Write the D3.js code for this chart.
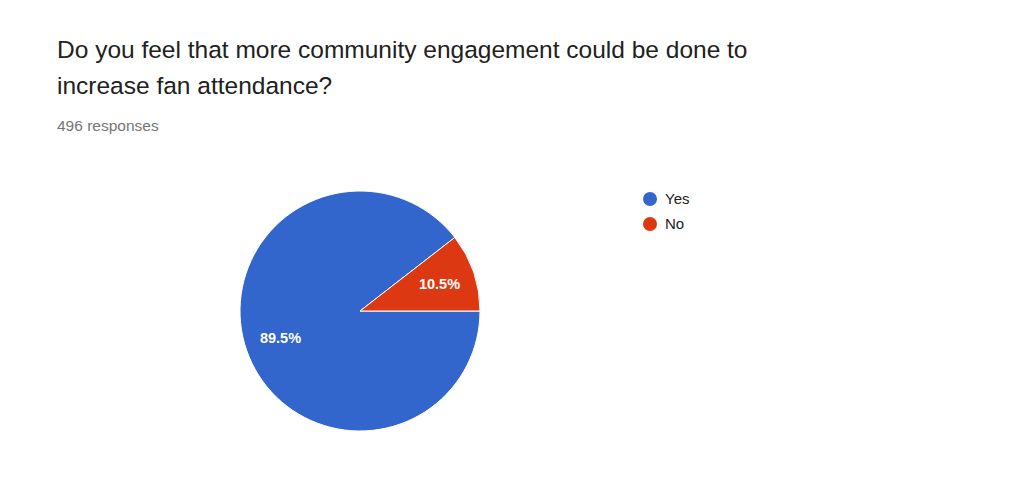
<!DOCTYPE html>
<html>
<head>
<meta charset="utf-8">
<script src="https://cdn.jsdelivr.net/npm/d3@7"></script>
<style>
  body { margin: 0; background: #fff; font-family: "Liberation Sans", Arial, sans-serif; }
</style>
</head>
<body>
<svg id="chart" width="1024" height="487"></svg>
<script>
// chart data
var titleLines = ["Do you feel that more community engagement could be done to", "increase fan attendance?"];
var subtitle = "496 responses";
var categories = ["Yes", "No"];
var values = [89.5, 10.5];
var colors = ["#3366cc", "#dc3912"];

var svg = d3.select("#chart");

// title + response count
svg.selectAll("text.title")
  .data(titleLines)
  .enter()
  .append("text")
  .attr("class", "title")
  .attr("x", 57)
  .attr("y", (d, i) => 58 + i * 36)
  .attr("font-size", 24.5)
  .attr("fill", "#212121")
  .text(d => d);

svg.append("text")
  .attr("x", 57)
  .attr("y", 131)
  .attr("font-size", 15.5)
  .attr("fill", "#757575")
  .text(subtitle);

// pie starts at 3 o'clock and runs clockwise
var radius = 120;
var g = svg.append("g").attr("transform", "translate(360,311)");

var pie = d3.pie().sort(null)
  .startAngle(Math.PI / 2)
  .endAngle(Math.PI / 2 + 2 * Math.PI);
var arc = d3.arc().innerRadius(0).outerRadius(radius);
var labelArc = d3.arc().innerRadius(radius * 0.7).outerRadius(radius * 0.7);

var arcs = pie(values);

g.selectAll("path")
  .data(arcs)
  .enter()
  .append("path")
  .attr("d", arc)
  .attr("fill", (d, i) => colors[i])
  .attr("stroke", "#fff")
  .attr("stroke-width", 1);

g.selectAll("text")
  .data(arcs)
  .enter()
  .append("text")
  .attr("transform", d => "translate(" + labelArc.centroid(d) + ")")
  .attr("text-anchor", "middle")
  .attr("dy", "0.35em")
  .attr("font-size", 14.5)
  .attr("font-weight", "bold")
  .attr("fill", "#fff")
  .text(d => d.data.toFixed(1) + "%");

// legend
var legend = svg.selectAll("g.legend")
  .data(categories)
  .enter()
  .append("g")
  .attr("class", "legend")
  .attr("transform", (d, i) => "translate(650," + (199 + i * 25) + ")");

legend.append("circle")
  .attr("r", 7)
  .attr("fill", (d, i) => colors[i]);

legend.append("text")
  .attr("x", 15)
  .attr("dy", "0.35em")
  .attr("font-size", 15)
  .attr("fill", "#212121")
  .text(d => d);
</script>
</body>
</html>
